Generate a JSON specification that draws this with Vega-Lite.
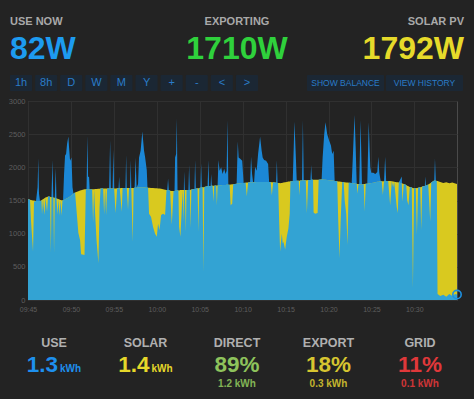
{
"$schema":"https://vega.github.io/schema/vega-lite/v6.json",
"width":429,"height":199,
"autosize":{"type":"none"},
"padding":{"left":28,"top":101,"right":17,"bottom":99},
"background":"#232323",
"config":{"font":"Liberation Sans","view":{"stroke":"#4a4a4a"}},
"resolve":{"scale":{"x":"independent","y":"independent","color":"independent"}},
"layer":[
{
"data":{"values":[
{"t":"2024-01-01T09:45:00","u":1520,"s":1520,"d":1520},{"t":"2024-01-01T09:45:14","u":1510,"s":1512,"d":1510},{"t":"2024-01-01T09:45:21","u":1200,"s":1508,"d":1200},{"t":"2024-01-01T09:45:35","u":730,"s":1500,"d":730},{"t":"2024-01-01T09:45:42","u":1480,"s":1499,"d":1480},{"t":"2024-01-01T09:45:56","u":1494,"s":1494,"d":1494},{"t":"2024-01-01T09:46:07","u":1700,"s":1492,"d":1492},{"t":"2024-01-01T09:46:12","u":2140,"s":1492,"d":1492},{"t":"2024-01-01T09:46:17","u":1600,"s":1491,"d":1491},{"t":"2024-01-01T09:46:24","u":1490,"s":1490,"d":1490},
{"t":"2024-01-01T09:46:34","u":1505,"s":1505,"d":1505},{"t":"2024-01-01T09:46:38","u":1290,"s":1510,"d":1290},{"t":"2024-01-01T09:46:45","u":1520,"s":1520,"d":1520},{"t":"2024-01-01T09:46:55","u":1280,"s":1535,"d":1280},{"t":"2024-01-01T09:47:02","u":1545,"s":1545,"d":1545},{"t":"2024-01-01T09:47:13","u":1330,"s":1553,"d":1330},{"t":"2024-01-01T09:47:20","u":1560,"s":1560,"d":1560},{"t":"2024-01-01T09:47:34","u":1555,"s":1555,"d":1555},{"t":"2024-01-01T09:47:40","u":710,"s":1552,"d":710},{"t":"2024-01-01T09:47:44","u":1550,"s":1550,"d":1550},
{"t":"2024-01-01T09:47:51","u":2110,"s":1548,"d":1548},{"t":"2024-01-01T09:47:57","u":1545,"s":1545,"d":1545},{"t":"2024-01-01T09:48:02","u":710,"s":1543,"d":710},{"t":"2024-01-01T09:48:07","u":1541,"s":1541,"d":1541},{"t":"2024-01-01T09:48:14","u":1990,"s":1537,"d":1537},{"t":"2024-01-01T09:48:19","u":1532,"s":1532,"d":1532},{"t":"2024-01-01T09:48:26","u":1290,"s":1527,"d":1290},{"t":"2024-01-01T09:48:33","u":1522,"s":1522,"d":1522},{"t":"2024-01-01T09:48:40","u":1270,"s":1515,"d":1270},{"t":"2024-01-01T09:48:47","u":1509,"s":1509,"d":1509},
{"t":"2024-01-01T09:48:54","u":1270,"s":1505,"d":1270},{"t":"2024-01-01T09:49:01","u":1502,"s":1502,"d":1502},{"t":"2024-01-01T09:49:05","u":1500,"s":1500,"d":1500},{"t":"2024-01-01T09:49:12","u":1900,"s":1509,"d":1509},{"t":"2024-01-01T09:49:19","u":2180,"s":1517,"d":1517},{"t":"2024-01-01T09:49:26","u":2200,"s":1526,"d":1526},{"t":"2024-01-01T09:49:33","u":2350,"s":1534,"d":1534},{"t":"2024-01-01T09:49:42","u":2463,"s":1545,"d":1545},{"t":"2024-01-01T09:49:47","u":2300,"s":1551,"d":1551},{"t":"2024-01-01T09:49:54","u":2100,"s":1560,"d":1560},
{"t":"2024-01-01T09:50:04","u":2150,"s":1578,"d":1578},{"t":"2024-01-01T09:50:11","u":1700,"s":1590,"d":1590},{"t":"2024-01-01T09:50:18","u":1602,"s":1602,"d":1602},{"t":"2024-01-01T09:50:29","u":1620,"s":1620,"d":1620},{"t":"2024-01-01T09:50:52","u":1010,"s":1640,"d":1010},{"t":"2024-01-01T09:51:04","u":900,"s":1650,"d":900},{"t":"2024-01-01T09:51:11","u":690,"s":1654,"d":690},{"t":"2024-01-01T09:51:35","u":680,"s":1668,"d":680},{"t":"2024-01-01T09:51:44","u":1668,"s":1668,"d":1668},{"t":"2024-01-01T09:51:49","u":1670,"s":1669,"d":1669},
{"t":"2024-01-01T09:51:55","u":2480,"s":1668,"d":1668},{"t":"2024-01-01T09:52:00","u":1860,"s":1667,"d":1667},{"t":"2024-01-01T09:52:07","u":1850,"s":1666,"d":1666},{"t":"2024-01-01T09:52:11","u":1665,"s":1665,"d":1665},{"t":"2024-01-01T09:52:28","u":1668,"s":1668,"d":1668},{"t":"2024-01-01T09:52:35","u":1160,"s":1669,"d":1160},{"t":"2024-01-01T09:52:42","u":1671,"s":1671,"d":1671},{"t":"2024-01-01T09:52:49","u":1300,"s":1672,"d":1300},{"t":"2024-01-01T09:52:59","u":900,"s":1674,"d":900},{"t":"2024-01-01T09:53:12","u":555,"s":1677,"d":555},
{"t":"2024-01-01T09:53:20","u":1400,"s":1679,"d":1400},{"t":"2024-01-01T09:53:27","u":1680,"s":1680,"d":1680},{"t":"2024-01-01T09:53:45","u":1680,"s":1680,"d":1680},{"t":"2024-01-01T09:53:52","u":1290,"s":1680,"d":1290},{"t":"2024-01-01T09:53:59","u":1680,"s":1680,"d":1680},{"t":"2024-01-01T09:54:06","u":1280,"s":1680,"d":1280},{"t":"2024-01-01T09:54:13","u":1680,"s":1680,"d":1680},{"t":"2024-01-01T09:54:27","u":1680,"s":1680,"d":1680},{"t":"2024-01-01T09:54:34","u":2410,"s":1680,"d":1680},{"t":"2024-01-01T09:54:39","u":1680,"s":1680,"d":1680},
{"t":"2024-01-01T09:54:51","u":1680,"s":1680,"d":1680},{"t":"2024-01-01T09:54:57","u":2270,"s":1681,"d":1681},{"t":"2024-01-01T09:55:02","u":1681,"s":1681,"d":1681},{"t":"2024-01-01T09:55:12","u":1310,"s":1682,"d":1310},{"t":"2024-01-01T09:55:23","u":1684,"s":1684,"d":1684},{"t":"2024-01-01T09:55:33","u":1685,"s":1685,"d":1685},{"t":"2024-01-01T09:55:37","u":1860,"s":1685,"d":1685},{"t":"2024-01-01T09:55:41","u":1686,"s":1686,"d":1686},{"t":"2024-01-01T09:55:55","u":1330,"s":1688,"d":1330},{"t":"2024-01-01T09:56:01","u":1688,"s":1688,"d":1688},
{"t":"2024-01-01T09:56:21","u":1690,"s":1690,"d":1690},{"t":"2024-01-01T09:56:26","u":2190,"s":1690,"d":1690},{"t":"2024-01-01T09:56:30","u":1690,"s":1690,"d":1690},{"t":"2024-01-01T09:56:39","u":1360,"s":1690,"d":1360},{"t":"2024-01-01T09:56:46","u":1690,"s":1690,"d":1690},{"t":"2024-01-01T09:56:53","u":1690,"s":1690,"d":1690},{"t":"2024-01-01T09:56:58","u":2110,"s":1690,"d":1690},{"t":"2024-01-01T09:57:02","u":1690,"s":1690,"d":1690},{"t":"2024-01-01T09:57:12","u":880,"s":1690,"d":880},{"t":"2024-01-01T09:57:18","u":1690,"s":1690,"d":1690},
{"t":"2024-01-01T09:57:25","u":1692,"s":1692,"d":1692},{"t":"2024-01-01T09:57:32","u":2150,"s":1693,"d":1693},{"t":"2024-01-01T09:57:39","u":1694,"s":1694,"d":1694},{"t":"2024-01-01T09:57:49","u":1750,"s":1696,"d":1696},{"t":"2024-01-01T09:57:56","u":2150,"s":1697,"d":1697},{"t":"2024-01-01T09:58:07","u":2250,"s":1700,"d":1700},{"t":"2024-01-01T09:58:19","u":2540,"s":1698,"d":1698},{"t":"2024-01-01T09:58:31","u":2250,"s":1696,"d":1696},{"t":"2024-01-01T09:58:38","u":2160,"s":1695,"d":1695},{"t":"2024-01-01T09:58:50","u":1960,"s":1693,"d":1693},
{"t":"2024-01-01T09:58:55","u":1692,"s":1692,"d":1692},{"t":"2024-01-01T09:58:59","u":1692,"s":1692,"d":1692},{"t":"2024-01-01T09:59:06","u":1300,"s":1691,"d":1300},{"t":"2024-01-01T09:59:20","u":1250,"s":1689,"d":1250},{"t":"2024-01-01T09:59:34","u":1100,"s":1687,"d":1100},{"t":"2024-01-01T09:59:48","u":1000,"s":1685,"d":1000},{"t":"2024-01-01T10:00:00","u":955,"s":1683,"d":955},{"t":"2024-01-01T10:00:09","u":1150,"s":1682,"d":1150},{"t":"2024-01-01T10:00:19","u":1050,"s":1680,"d":1050},{"t":"2024-01-01T10:00:30","u":1280,"s":1677,"d":1280},
{"t":"2024-01-01T10:00:44","u":1300,"s":1670,"d":1300},{"t":"2024-01-01T10:00:58","u":1280,"s":1663,"d":1280},{"t":"2024-01-01T10:01:08","u":1659,"s":1659,"d":1659},{"t":"2024-01-01T10:01:13","u":1660,"s":1658,"d":1658},{"t":"2024-01-01T10:01:19","u":1830,"s":1655,"d":1655},{"t":"2024-01-01T10:01:24","u":1653,"s":1653,"d":1653},{"t":"2024-01-01T10:01:33","u":1648,"s":1648,"d":1648},{"t":"2024-01-01T10:01:45","u":1140,"s":1642,"d":1140},{"t":"2024-01-01T10:01:57","u":1644,"s":1644,"d":1644},{"t":"2024-01-01T10:02:04","u":1645,"s":1645,"d":1645},
{"t":"2024-01-01T10:02:08","u":2150,"s":1646,"d":1646},{"t":"2024-01-01T10:02:15","u":2200,"s":1648,"d":1648},{"t":"2024-01-01T10:02:20","u":2740,"s":1649,"d":1649},{"t":"2024-01-01T10:02:25","u":1650,"s":1650,"d":1650},{"t":"2024-01-01T10:02:31","u":1651,"s":1651,"d":1651},{"t":"2024-01-01T10:02:36","u":1100,"s":1652,"d":1100},{"t":"2024-01-01T10:02:45","u":955,"s":1660,"d":955},{"t":"2024-01-01T10:02:53","u":1300,"s":1660,"d":1300},{"t":"2024-01-01T10:03:00","u":1660,"s":1660,"d":1660},{"t":"2024-01-01T10:03:06","u":1180,"s":1660,"d":1180},
{"t":"2024-01-01T10:03:11","u":1940,"s":1660,"d":1660},{"t":"2024-01-01T10:03:16","u":1660,"s":1660,"d":1660},{"t":"2024-01-01T10:03:23","u":1030,"s":1660,"d":1030},{"t":"2024-01-01T10:03:28","u":1660,"s":1660,"d":1660},{"t":"2024-01-01T10:03:41","u":1660,"s":1660,"d":1660},{"t":"2024-01-01T10:03:46","u":2035,"s":1660,"d":1660},{"t":"2024-01-01T10:03:51","u":1660,"s":1660,"d":1660},{"t":"2024-01-01T10:03:56","u":1090,"s":1662,"d":1090},{"t":"2024-01-01T10:04:02","u":1664,"s":1664,"d":1664},{"t":"2024-01-01T10:04:23","u":1673,"s":1673,"d":1673},
{"t":"2024-01-01T10:04:28","u":2110,"s":1675,"d":1675},{"t":"2024-01-01T10:04:33","u":1677,"s":1677,"d":1677},{"t":"2024-01-01T10:04:45","u":1683,"s":1683,"d":1683},{"t":"2024-01-01T10:04:51","u":1030,"s":1685,"d":1030},{"t":"2024-01-01T10:04:57","u":1688,"s":1688,"d":1688},{"t":"2024-01-01T10:05:05","u":1691,"s":1691,"d":1691},{"t":"2024-01-01T10:05:10","u":2060,"s":1693,"d":1693},{"t":"2024-01-01T10:05:15","u":1695,"s":1695,"d":1695},{"t":"2024-01-01T10:05:20","u":1698,"s":1698,"d":1698},{"t":"2024-01-01T10:05:26","u":427,"s":1700,"d":427},
{"t":"2024-01-01T10:05:32","u":1703,"s":1703,"d":1703},{"t":"2024-01-01T10:05:55","u":1713,"s":1713,"d":1713},{"t":"2024-01-01T10:06:01","u":2110,"s":1715,"d":1715},{"t":"2024-01-01T10:06:06","u":1717,"s":1717,"d":1717},{"t":"2024-01-01T10:06:16","u":1720,"s":1720,"d":1720},{"t":"2024-01-01T10:06:20","u":1900,"s":1721,"d":1721},{"t":"2024-01-01T10:06:25","u":1722,"s":1722,"d":1722},{"t":"2024-01-01T10:06:30","u":1723,"s":1723,"d":1723},{"t":"2024-01-01T10:06:36","u":1480,"s":1723,"d":1480},{"t":"2024-01-01T10:06:41","u":1724,"s":1724,"d":1724},
{"t":"2024-01-01T10:06:55","u":1726,"s":1726,"d":1726},{"t":"2024-01-01T10:07:00","u":1430,"s":1727,"d":1430},{"t":"2024-01-01T10:07:05","u":1728,"s":1728,"d":1728},{"t":"2024-01-01T10:07:11","u":2110,"s":1728,"d":1728},{"t":"2024-01-01T10:07:19","u":1950,"s":1730,"d":1730},{"t":"2024-01-01T10:07:30","u":2000,"s":1731,"d":1731},{"t":"2024-01-01T10:07:40","u":1900,"s":1732,"d":1732},{"t":"2024-01-01T10:07:51","u":1980,"s":1734,"d":1734},{"t":"2024-01-01T10:08:01","u":1900,"s":1735,"d":1735},{"t":"2024-01-01T10:08:08","u":1950,"s":1736,"d":1736},
{"t":"2024-01-01T10:08:14","u":2715,"s":1737,"d":1737},{"t":"2024-01-01T10:08:20","u":1738,"s":1738,"d":1738},{"t":"2024-01-01T10:08:29","u":1739,"s":1739,"d":1739},{"t":"2024-01-01T10:08:36","u":1430,"s":1741,"d":1430},{"t":"2024-01-01T10:08:47","u":1450,"s":1744,"d":1450},{"t":"2024-01-01T10:08:54","u":1746,"s":1746,"d":1746},{"t":"2024-01-01T10:09:18","u":1753,"s":1753,"d":1753},{"t":"2024-01-01T10:09:26","u":2390,"s":1755,"d":1755},{"t":"2024-01-01T10:09:32","u":2150,"s":1757,"d":1757},{"t":"2024-01-01T10:09:43","u":2130,"s":1760,"d":1760},
{"t":"2024-01-01T10:09:57","u":2100,"s":1763,"d":1763},{"t":"2024-01-01T10:10:07","u":1765,"s":1765,"d":1765},{"t":"2024-01-01T10:10:21","u":1768,"s":1768,"d":1768},{"t":"2024-01-01T10:10:29","u":1560,"s":1770,"d":1560},{"t":"2024-01-01T10:10:38","u":1772,"s":1772,"d":1772},{"t":"2024-01-01T10:10:52","u":1775,"s":1775,"d":1775},{"t":"2024-01-01T10:10:59","u":2160,"s":1776,"d":1776},{"t":"2024-01-01T10:11:06","u":1900,"s":1776,"d":1776},{"t":"2024-01-01T10:11:13","u":1777,"s":1777,"d":1777},{"t":"2024-01-01T10:11:20","u":1777,"s":1777,"d":1777},
{"t":"2024-01-01T10:11:27","u":2010,"s":1777,"d":1777},{"t":"2024-01-01T10:11:38","u":1950,"s":1778,"d":1778},{"t":"2024-01-01T10:11:48","u":2200,"s":1779,"d":1779},{"t":"2024-01-01T10:12:02","u":2460,"s":1780,"d":1780},{"t":"2024-01-01T10:12:13","u":2250,"s":1780,"d":1780},{"t":"2024-01-01T10:12:20","u":2150,"s":1780,"d":1780},{"t":"2024-01-01T10:12:30","u":2110,"s":1780,"d":1780},{"t":"2024-01-01T10:12:44","u":2100,"s":1780,"d":1780},{"t":"2024-01-01T10:12:58","u":2050,"s":1780,"d":1780},{"t":"2024-01-01T10:13:05","u":1780,"s":1780,"d":1780},
{"t":"2024-01-01T10:13:16","u":1779,"s":1779,"d":1779},{"t":"2024-01-01T10:13:24","u":1580,"s":1777,"d":1580},{"t":"2024-01-01T10:13:33","u":1774,"s":1774,"d":1774},{"t":"2024-01-01T10:13:54","u":1768,"s":1768,"d":1768},{"t":"2024-01-01T10:13:59","u":2110,"s":1767,"d":1767},{"t":"2024-01-01T10:14:04","u":1765,"s":1765,"d":1765},{"t":"2024-01-01T10:14:08","u":1764,"s":1764,"d":1764},{"t":"2024-01-01T10:14:15","u":1200,"s":1762,"d":1200},{"t":"2024-01-01T10:14:22","u":730,"s":1760,"d":730},{"t":"2024-01-01T10:14:29","u":900,"s":1763,"d":900},
{"t":"2024-01-01T10:14:34","u":1000,"s":1765,"d":1000},{"t":"2024-01-01T10:14:40","u":850,"s":1768,"d":850},{"t":"2024-01-01T10:14:45","u":880,"s":1770,"d":880},{"t":"2024-01-01T10:14:57","u":760,"s":1775,"d":760},{"t":"2024-01-01T10:15:08","u":950,"s":1780,"d":950},{"t":"2024-01-01T10:15:20","u":1080,"s":1785,"d":1080},{"t":"2024-01-01T10:15:29","u":1300,"s":1788,"d":1300},{"t":"2024-01-01T10:15:34","u":1790,"s":1790,"d":1790},{"t":"2024-01-01T10:15:50","u":1792,"s":1792,"d":1792},{"t":"2024-01-01T10:15:57","u":2300,"s":1793,"d":1793},
{"t":"2024-01-01T10:16:02","u":2690,"s":1794,"d":1794},{"t":"2024-01-01T10:16:11","u":2200,"s":1795,"d":1795},{"t":"2024-01-01T10:16:18","u":1796,"s":1796,"d":1796},{"t":"2024-01-01T10:16:32","u":1798,"s":1798,"d":1798},{"t":"2024-01-01T10:16:37","u":1580,"s":1799,"d":1580},{"t":"2024-01-01T10:16:42","u":1800,"s":1800,"d":1800},{"t":"2024-01-01T10:16:55","u":1802,"s":1802,"d":1802},{"t":"2024-01-01T10:17:01","u":2715,"s":1803,"d":1803},{"t":"2024-01-01T10:17:07","u":1804,"s":1804,"d":1804},{"t":"2024-01-01T10:17:21","u":1805,"s":1805,"d":1805},
{"t":"2024-01-01T10:17:29","u":1307,"s":1807,"d":1307},{"t":"2024-01-01T10:17:38","u":1808,"s":1808,"d":1808},{"t":"2024-01-01T10:17:54","u":1810,"s":1810,"d":1810},{"t":"2024-01-01T10:17:59","u":2035,"s":1810,"d":1810},{"t":"2024-01-01T10:18:04","u":1811,"s":1811,"d":1811},{"t":"2024-01-01T10:18:12","u":1811,"s":1811,"d":1811},{"t":"2024-01-01T10:18:16","u":1320,"s":1812,"d":1320},{"t":"2024-01-01T10:18:27","u":1300,"s":1812,"d":1300},{"t":"2024-01-01T10:18:44","u":1310,"s":1814,"d":1310},{"t":"2024-01-01T10:18:51","u":1814,"s":1814,"d":1814},
{"t":"2024-01-01T10:19:12","u":1815,"s":1815,"d":1815},{"t":"2024-01-01T10:19:19","u":2150,"s":1815,"d":1815},{"t":"2024-01-01T10:19:30","u":2500,"s":1813,"d":1813},{"t":"2024-01-01T10:19:39","u":2680,"s":1811,"d":1811},{"t":"2024-01-01T10:19:51","u":2500,"s":1808,"d":1808},{"t":"2024-01-01T10:20:05","u":2400,"s":1805,"d":1805},{"t":"2024-01-01T10:20:17","u":2330,"s":1802,"d":1802},{"t":"2024-01-01T10:20:26","u":2200,"s":1800,"d":1800},{"t":"2024-01-01T10:20:36","u":2250,"s":1797,"d":1797},{"t":"2024-01-01T10:20:43","u":1795,"s":1795,"d":1795},
{"t":"2024-01-01T10:21:01","u":1790,"s":1790,"d":1790},{"t":"2024-01-01T10:21:08","u":1200,"s":1788,"d":1200},{"t":"2024-01-01T10:21:17","u":630,"s":1785,"d":630},{"t":"2024-01-01T10:21:25","u":1200,"s":1782,"d":1200},{"t":"2024-01-01T10:21:36","u":1780,"s":1780,"d":1780},{"t":"2024-01-01T10:21:46","u":1778,"s":1778,"d":1778},{"t":"2024-01-01T10:21:53","u":1500,"s":1776,"d":1500},{"t":"2024-01-01T10:22:04","u":1300,"s":1773,"d":1300},{"t":"2024-01-01T10:22:13","u":830,"s":1770,"d":830},{"t":"2024-01-01T10:22:21","u":1768,"s":1768,"d":1768},
{"t":"2024-01-01T10:22:42","u":1762,"s":1762,"d":1762},{"t":"2024-01-01T10:22:49","u":2100,"s":1760,"d":1760},{"t":"2024-01-01T10:23:02","u":2790,"s":1756,"d":1756},{"t":"2024-01-01T10:23:10","u":2300,"s":1754,"d":1754},{"t":"2024-01-01T10:23:17","u":1752,"s":1752,"d":1752},{"t":"2024-01-01T10:23:23","u":1600,"s":1750,"d":1600},{"t":"2024-01-01T10:23:29","u":1748,"s":1748,"d":1748},{"t":"2024-01-01T10:23:35","u":1746,"s":1746,"d":1746},{"t":"2024-01-01T10:23:44","u":2715,"s":1741,"d":1741},{"t":"2024-01-01T10:23:54","u":1743,"s":1743,"d":1743},
{"t":"2024-01-01T10:24:06","u":1747,"s":1747,"d":1747},{"t":"2024-01-01T10:24:13","u":1330,"s":1749,"d":1330},{"t":"2024-01-01T10:24:20","u":1751,"s":1751,"d":1751},{"t":"2024-01-01T10:24:31","u":1754,"s":1754,"d":1754},{"t":"2024-01-01T10:24:41","u":2680,"s":1757,"d":1757},{"t":"2024-01-01T10:24:52","u":2000,"s":1760,"d":1760},{"t":"2024-01-01T10:24:59","u":1920,"s":1763,"d":1763},{"t":"2024-01-01T10:25:13","u":1920,"s":1769,"d":1769},{"t":"2024-01-01T10:25:27","u":1900,"s":1775,"d":1775},{"t":"2024-01-01T10:25:41","u":1930,"s":1781,"d":1781},
{"t":"2024-01-01T10:25:48","u":2160,"s":1784,"d":1784},{"t":"2024-01-01T10:25:55","u":1920,"s":1787,"d":1787},{"t":"2024-01-01T10:26:05","u":1790,"s":1790,"d":1790},{"t":"2024-01-01T10:26:12","u":1791,"s":1791,"d":1791},{"t":"2024-01-01T10:26:20","u":1583,"s":1791,"d":1583},{"t":"2024-01-01T10:26:28","u":1792,"s":1792,"d":1792},{"t":"2024-01-01T10:26:36","u":2160,"s":1792,"d":1792},{"t":"2024-01-01T10:26:43","u":1793,"s":1793,"d":1793},{"t":"2024-01-01T10:26:57","u":1794,"s":1794,"d":1794},{"t":"2024-01-01T10:27:11","u":1430,"s":1795,"d":1430},
{"t":"2024-01-01T10:27:22","u":1791,"s":1791,"d":1791},{"t":"2024-01-01T10:27:32","u":1700,"s":1787,"d":1700},{"t":"2024-01-01T10:27:39","u":1784,"s":1784,"d":1784},{"t":"2024-01-01T10:27:57","u":1400,"s":1777,"d":1400},{"t":"2024-01-01T10:28:04","u":1310,"s":1775,"d":1310},{"t":"2024-01-01T10:28:11","u":1772,"s":1772,"d":1772},{"t":"2024-01-01T10:28:32","u":1860,"s":1761,"d":1761},{"t":"2024-01-01T10:28:37","u":1480,"s":1756,"d":1480},{"t":"2024-01-01T10:28:46","u":1749,"s":1749,"d":1749},{"t":"2024-01-01T10:29:03","u":1732,"s":1732,"d":1732},
{"t":"2024-01-01T10:29:10","u":1500,"s":1724,"d":1500},{"t":"2024-01-01T10:29:19","u":1430,"s":1714,"d":1430},{"t":"2024-01-01T10:29:28","u":1704,"s":1704,"d":1704},{"t":"2024-01-01T10:29:42","u":1695,"s":1695,"d":1695},{"t":"2024-01-01T10:29:50","u":176,"s":1690,"d":176},{"t":"2024-01-01T10:29:58","u":1685,"s":1685,"d":1685},{"t":"2024-01-01T10:30:10","u":1685,"s":1685,"d":1685},{"t":"2024-01-01T10:30:18","u":980,"s":1689,"d":980},{"t":"2024-01-01T10:30:26","u":1693,"s":1693,"d":1693},{"t":"2024-01-01T10:30:41","u":1700,"s":1700,"d":1700},
{"t":"2024-01-01T10:30:48","u":1050,"s":1705,"d":1050},{"t":"2024-01-01T10:30:55","u":1710,"s":1710,"d":1710},{"t":"2024-01-01T10:31:13","u":1720,"s":1720,"d":1720},{"t":"2024-01-01T10:31:16","u":1860,"s":1722,"d":1722},{"t":"2024-01-01T10:31:21","u":1724,"s":1724,"d":1724},{"t":"2024-01-01T10:31:37","u":1740,"s":1740,"d":1740},{"t":"2024-01-01T10:31:51","u":1180,"s":1760,"d":1180},{"t":"2024-01-01T10:31:58","u":1770,"s":1770,"d":1770},{"t":"2024-01-01T10:32:19","u":1800,"s":1800,"d":1800},{"t":"2024-01-01T10:32:24","u":2135,"s":1798,"d":1798},
{"t":"2024-01-01T10:32:30","u":1797,"s":1797,"d":1797},{"t":"2024-01-01T10:32:37","u":1794,"s":1794,"d":1794},{"t":"2024-01-01T10:32:42","u":90,"s":1793,"d":90},{"t":"2024-01-01T10:33:01","u":60,"s":1780,"d":60},{"t":"2024-01-01T10:33:22","u":80,"s":1765,"d":80},{"t":"2024-01-01T10:33:43","u":50,"s":1775,"d":50},{"t":"2024-01-01T10:34:04","u":90,"s":1760,"d":90},{"t":"2024-01-01T10:34:25","u":60,"s":1770,"d":60},{"t":"2024-01-01T10:34:46","u":90,"s":1755,"d":90},{"t":"2024-01-01T10:34:58","u":82,"s":1750,"d":82}
]},
"encoding":{"x":{"field":"t","type":"temporal","axis":{"title":null,"format":"%H:%M","labelFontSize":7,"labelColor":"#5e5e5e","ticks":false,"domain":false,"labelPadding":5,"labelFlush":false,"labelOverlap":false,"grid":true,"gridColor":"#303030"}}},
"layer":[
{"mark":{"type":"area","color":"#1b87d6"},"encoding":{"y":{"field":"u","type":"quantitative","scale":{"domain":[0,3000]},"axis":{"title":null,"tickCount":6,"format":"d","labelOverlap":false,"labelFontSize":7.5,"labelColor":"#5e5e5e","ticks":false,"domain":false,"labelPadding":3,"grid":true,"gridColor":"#303030"}}}},
{"mark":{"type":"area","color":"#d9c91f"},"encoding":{"y":{"field":"s","type":"quantitative"}}},
{"mark":{"type":"area","color":"#33a3d3"},"encoding":{"y":{"field":"d","type":"quantitative"}}},
{"data":{"values":[{"t":"2024-01-01T10:34:58","u":82}]},"mark":{"type":"point","shape":"circle","filled":false,"color":"#1e90e0","size":70,"strokeWidth":1.6,"opacity":1},"encoding":{"y":{"field":"u","type":"quantitative"}}}
]
},
{
"data":{"values":[{"k":"a","lab":"USE NOW","val":"82W"},{"k":"b","lab":"EXPORTING","val":"1710W"},{"k":"c","lab":"SOLAR PV","val":"1792W"}]},
"encoding":{"x":{"field":"k","type":"nominal","scale":{"type":"point","domain":["a","b","c"],"range":[-18,436],"padding":0},"axis":null}},
"layer":[
{"transform":[{"filter":"datum.k=='a'"}],"mark":{"type":"text","align":"left","baseline":"alphabetic","fontSize":11,"fontWeight":"bold","color":"#a9a9a9"},"encoding":{"text":{"field":"lab"},"y":{"datum":"lab","type":"nominal","scale":{"type":"point","domain":["lab","val"],"range":[-76,-42.5],"padding":0},"axis":null}}},
{"transform":[{"filter":"datum.k=='b'"}],"mark":{"type":"text","align":"center","baseline":"alphabetic","fontSize":11,"fontWeight":"bold","color":"#a9a9a9"},"encoding":{"text":{"field":"lab"},"y":{"datum":"lab","type":"nominal","scale":{"type":"point","domain":["lab","val"],"range":[-76,-42.5],"padding":0},"axis":null}}},
{"transform":[{"filter":"datum.k=='c'"}],"mark":{"type":"text","align":"right","baseline":"alphabetic","fontSize":11,"fontWeight":"bold","color":"#a9a9a9"},"encoding":{"text":{"field":"lab"},"y":{"datum":"lab","type":"nominal","scale":{"type":"point","domain":["lab","val"],"range":[-76,-42.5],"padding":0},"axis":null}}},
{"transform":[{"filter":"datum.k=='a'"}],"mark":{"type":"text","align":"left","baseline":"alphabetic","fontSize":32,"fontWeight":"bold"},"encoding":{"text":{"field":"val"},"color":{"field":"k","type":"nominal","scale":{"domain":["a","b","c"],"range":["#1d9bf0","#2fd13c","#e6da2a"]},"legend":null},"y":{"datum":"val","type":"nominal","scale":{"type":"point","domain":["lab","val"],"range":[-76,-42.5],"padding":0},"axis":null}}},
{"transform":[{"filter":"datum.k=='b'"}],"mark":{"type":"text","align":"center","baseline":"alphabetic","fontSize":32,"fontWeight":"bold"},"encoding":{"text":{"field":"val"},"color":{"field":"k","type":"nominal","scale":{"domain":["a","b","c"],"range":["#1d9bf0","#2fd13c","#e6da2a"]},"legend":null},"y":{"datum":"val","type":"nominal","scale":{"type":"point","domain":["lab","val"],"range":[-76,-42.5],"padding":0},"axis":null}}},
{"transform":[{"filter":"datum.k=='c'"}],"mark":{"type":"text","align":"right","baseline":"alphabetic","fontSize":32,"fontWeight":"bold"},"encoding":{"text":{"field":"val"},"color":{"field":"k","type":"nominal","scale":{"domain":["a","b","c"],"range":["#1d9bf0","#2fd13c","#e6da2a"]},"legend":null},"y":{"datum":"val","type":"nominal","scale":{"type":"point","domain":["lab","val"],"range":[-76,-42.5],"padding":0},"axis":null}}}
]
},
{
"data":{"values":[{"b":"1h"},{"b":"8h"},{"b":"D"},{"b":"W"},{"b":"M"},{"b":"Y"},{"b":"+"},{"b":"-"},{"b":"<"},{"b":">"}]},
"encoding":{
"x":{"field":"b","type":"nominal","sort":null,"scale":{"type":"band","domain":["1h","8h","D","W","M","Y","+","-","<",">"],"range":[-18,230],"paddingInner":0.12,"paddingOuter":0},"axis":null},
"y":{"datum":"btn","type":"nominal","scale":{"type":"band","domain":["btn"],"range":[-26,-10],"paddingInner":0,"paddingOuter":0},"axis":null}},
"layer":[
{"mark":{"type":"bar","color":"#1b2734","cornerRadius":1}},
{"mark":{"type":"text","color":"#2a7cc8","fontSize":11,"baseline":"middle","align":"center"},"encoding":{"text":{"field":"b"}}}
]
},
{
"data":{"values":[{"b":"SHOW BALANCE"},{"b":"VIEW HISTORY"}]},
"encoding":{
"x":{"field":"b","type":"nominal","sort":null,"scale":{"type":"band","domain":["SHOW BALANCE","VIEW HISTORY"],"range":[279,435],"paddingInner":0.025,"paddingOuter":0},"axis":null},
"y":{"datum":"btn","type":"nominal","scale":{"type":"band","domain":["btn"],"range":[-26,-10],"paddingInner":0,"paddingOuter":0},"axis":null}},
"layer":[
{"mark":{"type":"bar","color":"#1b2734","cornerRadius":1}},
{"mark":{"type":"text","color":"#2a7cc8","fontSize":8.5,"baseline":"middle","align":"center"},"encoding":{"text":{"field":"b"}}}
]
},
{
"data":{"values":[
{"k":"use","lab":"USE","big":"1.3","unit":"kWh","sub":""},
{"k":"solar","lab":"SOLAR","big":"1.4","unit":"kWh","sub":""},
{"k":"direct","lab":"DIRECT","big":"89%","unit":"","sub":"1.2 kWh"},
{"k":"export","lab":"EXPORT","big":"18%","unit":"","sub":"0.3 kWh"},
{"k":"grid","lab":"GRID","big":"11%","unit":"","sub":"0.1 kWh"}]},
"encoding":{"x":{"field":"k","type":"nominal","scale":{"type":"point","domain":["use","solar","direct","export","grid"],"range":[26,392],"padding":0},"axis":null}},
"layer":[
{"mark":{"type":"text","align":"center","baseline":"alphabetic","fontSize":12.5,"fontWeight":"bold","color":"#b0b0b0"},"encoding":{"text":{"field":"lab"},"y":{"datum":"lab","type":"nominal","scale":{"type":"point","domain":["lab","big"],"range":[245.5,271],"padding":0},"axis":null}}},
{"transform":[{"filter":"datum.unit!=''"}],"mark":{"type":"text","align":"right","dx":4,"baseline":"alphabetic","fontSize":22.5,"fontWeight":"bold"},"encoding":{"text":{"field":"big"},"color":{"field":"k","type":"nominal","scale":{"domain":["use","solar","direct","export","grid"],"range":["#1e90ee","#e6d82a","#8ec35c","#d6c530","#e0383a"]},"legend":null},"y":{"datum":"big","type":"nominal","scale":{"type":"point","domain":["lab","big"],"range":[245.5,271],"padding":0},"axis":null}}},
{"transform":[{"filter":"datum.unit!=''"}],"mark":{"type":"text","align":"left","dx":6,"baseline":"alphabetic","fontSize":10,"fontWeight":"bold"},"encoding":{"text":{"field":"unit"},"color":{"field":"k","type":"nominal","scale":{"domain":["use","solar","direct","export","grid"],"range":["#1e90ee","#e6d82a","#8ec35c","#d6c530","#e0383a"]},"legend":null},"y":{"datum":"big","type":"nominal","scale":{"type":"point","domain":["lab","big"],"range":[245.5,271],"padding":0},"axis":null}}},
{"transform":[{"filter":"datum.unit==''"}],"mark":{"type":"text","align":"center","baseline":"alphabetic","fontSize":22.5,"fontWeight":"bold"},"encoding":{"text":{"field":"big"},"color":{"field":"k","type":"nominal","scale":{"domain":["use","solar","direct","export","grid"],"range":["#1e90ee","#e6d82a","#8ec35c","#d6c530","#e0383a"]},"legend":null},"y":{"datum":"big","type":"nominal","scale":{"type":"point","domain":["lab","big"],"range":[245.5,271],"padding":0},"axis":null}}},
{"transform":[{"filter":"datum.unit==''"}],"mark":{"type":"text","align":"center","dy":14.7,"baseline":"alphabetic","fontSize":10,"fontWeight":"bold","opacity":0.9},"encoding":{"text":{"field":"sub"},"color":{"field":"k","type":"nominal","scale":{"domain":["use","solar","direct","export","grid"],"range":["#1e90ee","#e6d82a","#8ec35c","#d6c530","#e0383a"]},"legend":null},"y":{"datum":"big","type":"nominal","scale":{"type":"point","domain":["lab","big"],"range":[245.5,271],"padding":0},"axis":null}}}
]
}
]
}
